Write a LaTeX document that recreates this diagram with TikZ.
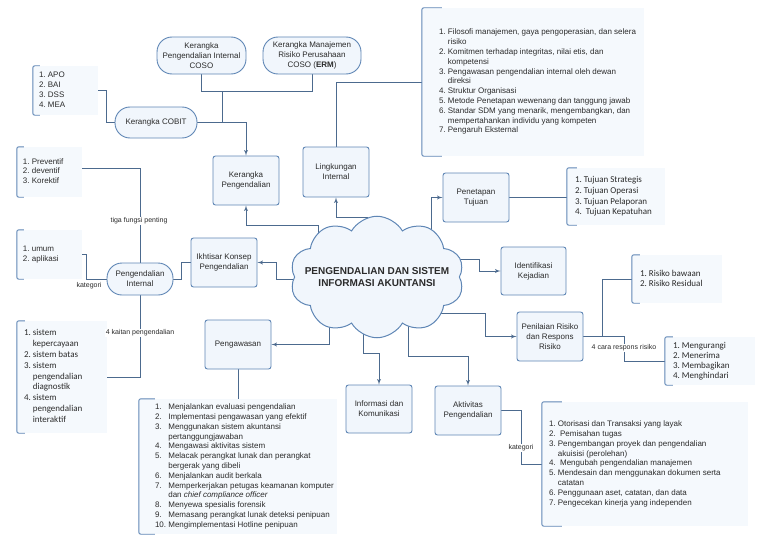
\documentclass[tikz,border=0pt]{standalone}
\usepackage{fontspec}
\setmainfont{Liberation Sans}
\newfontfamily\calfont{Carlito}
\usepackage{xcolor}
\usepackage{tikz}
\usetikzlibrary{positioning}
\usetikzlibrary{arrows,shapes.misc,shapes.symbols}

\definecolor{framecol}{HTML}{5F86B5}
\definecolor{linecol}{HTML}{4C6A8E}
\definecolor{fillcol}{HTML}{F1F6FC}
\definecolor{listcol}{HTML}{F5F9FD}
\definecolor{textcol}{HTML}{2B2B2B}

\pgfdeclarelayer{background}
\pgfsetlayers{background,main}

\newcommand\itemlist[2]{\parbox{#1}{\begin{tabular}{@{}l@{~}l@{}}#2\end{tabular}}}
\newcommand\listbrace[2][7pt]{\draw[listedge] ([xshift=#1]#2.north west) -- (#2.north west) -- (#2.south west) -- ([xshift=#1]#2.south west);}

\begin{document}
\begin{tikzpicture}[x=1pt,y=-1pt,>=latex',text=textcol,font=\fontsize{8}{10}\selectfont,
  box/.style={rectangle,draw=framecol,fill=fillcol,line width=0.9pt,rounded corners=2.5pt,
    minimum width=66pt,minimum height=49pt,align=center,inner sep=2pt},
  pill/.style={rectangle,draw=framecol,fill=fillcol,line width=0.9pt,rounded corners=15pt,
    align=center,inner sep=1pt},
  listbox/.style={fill=listcol,inner sep=0pt,font=\fontsize{8}{9.8}\selectfont},
  calist/.style={listbox,font=\calfont\fontsize{9}{10.8}\selectfont},
  listedge/.style={draw=framecol,line width=0.9pt,rounded corners=2pt},
  conn/.style={draw=linecol,line width=0.9pt},
  lbl/.style={fill=white,inner sep=1pt,font=\fontsize{7}{8}\selectfont}]
  \useasboundingbox (0,0) rectangle (768,543);

  % centre
  \node (cloud) [cloud,cloud puffs=10,cloud puff arc=120,aspect=1.7,draw=framecol,fill=fillcol,
    line width=1pt,minimum width=165pt,minimum height=99pt,inner xsep=-14pt,inner ysep=0pt,
    align=center,font=\bfseries\fontsize{10}{12}\selectfont] at (377,277)
    {PENGENDALIAN DAN SISTEM\\INFORMASI AKUNTANSI};

  % upper left
  \node (cosoint) [pill,minimum width=89pt,minimum height=37pt] at (201.5,55.5)
    {Kerangka\\Pengendalian Internal\\COSO};
  \node (erm) [pill,minimum width=98pt,minimum height=37pt] at (312,55.5)
    {Kerangka Manajemen\\Risiko Perusahaan\\COSO (\textbf{ERM})};
  \node (cobit) [pill,minimum width=82pt,minimum height=31pt] at (156,122.5) {Kerangka COBIT};
  \node (apolist) [listbox,minimum width=65pt,minimum height=49pt] at (65.5,90.5)
    {\itemlist{53pt}{1. & APO\\ 2. & BAI\\ 3. & DSS\\ 4. & MEA}};
  \node (kerangka) [box] at (246,180.5) {Kerangka\\Pengendalian};
  \node (lingkungan) [box,minimum height=50pt] at (336,172) {Lingkungan\\Internal};
  \node (filosofi) [listbox,minimum width=222pt,minimum height=148pt] at (533,82)
    {\itemlist{188pt}{1. & Filosofi manajemen, gaya pengoperasian, dan selera\\
     & risiko\\
    2. & Komitmen terhadap integritas, nilai etis, dan\\
     & kompetensi\\
    3. & Pengawasan pengendalian internal oleh dewan\\
     & direksi\\
    4. & Struktur Organisasi\\
    5. & Metode Penetapan wewenang dan tanggung jawab\\
    6. & Standar SDM yang menarik, mengembangkan, dan\\
     & mempertahankan individu yang kompeten\\
    7. & Pengaruh Eksternal}};

  % left
  \node (ikhtisar) [box] at (224,262.5) {Ikhtisar Konsep\\Pengendalian};
  \node (pengint) [pill,minimum width=66pt,minimum height=32pt] at (140,279) {Pengendalian\\Internal};
  \node (prevlist) [listbox,minimum width=65pt,minimum height=50pt] at (49.5,172)
    {\itemlist{53pt}{1. & Preventif\\ 2. & deventif\\ 3. & Korektif}};
  \node (umumlist) [listbox,minimum width=65pt,minimum height=49pt] at (49.5,254.5)
    {\itemlist{53pt}{1. & umum\\ 2. & aplikasi}};
  \node (sistemlist) [calist,minimum width=90pt,minimum height=112pt] at (62,377)
    {\itemlist{76pt}{1. & sistem\\ & kepercayaan\\ 2. & sistem batas\\ 3. & sistem\\
     & pengendalian\\ & diagnostik\\ 4. & sistem\\ & pengendalian\\ & interaktif}};

  % bottom
  \node (pengawasan) [box] at (238,344.5) {Pengawasan};
  \node (pawlist) [listbox,minimum width=198pt,minimum height=135pt] at (238,466.5)
    {\itemlist{166pt}{1. & Menjalankan evaluasi pengendalian\\
    2. & Implementasi pengawasan yang efektif\\
    3. & Menggunakan sistem akuntansi\\
     & pertanggungjawaban\\
    4. & Mengawasi aktivitas sistem\\
    5. & Melacak perangkat lunak dan perangkat\\
     & bergerak yang dibeli\\
    6. & Menjalankan audit berkala\\
    7. & Memperkerjakan petugas keamanan komputer\\
     & dan \textit{chief compliance officer}\\
    8. & Menyewa spesialis forensik\\
    9. & Memasang perangkat lunak deteksi penipuan\\
    10. & Mengimplementasi Hotline penipuan}};
  \node (infokom) [box,minimum height=48pt] at (379,409) {Informasi dan\\Komunikasi};
  \node (aktivitas) [box] at (468,410.5) {Aktivitas\\Pengendalian};
  \node (aktlist) [listbox,minimum width=206pt,minimum height=124pt] at (645,464)
    {\itemlist{192pt}{1. & Otorisasi dan Transaksi yang layak\\
    2. & \ Pemisahan tugas\\
    3. & Pengembangan proyek dan pengendalian\\
     & akuisisi (perolehan)\\
    4. & \ Mengubah pengendalian manajemen\\
    5. & Mendesain dan menggunakan dokumen serta\\
     & catatan\\
    6. & Penggunaan aset, catatan, dan data\\
    7. & Pengecekan kinerja yang independen}};

  % right
  \node (penetapan) [box] at (476,197.5) {Penetapan\\Tujuan};
  \node (tujlist) [calist,minimum width=98pt,minimum height=57pt] at (616,196.5)
    {\itemlist{82pt}{1. & Tujuan Strategis\\ 2. & Tujuan Operasi\\ 3. & Tujuan Pelaporan\\
    4. & \ Tujuan Kepatuhan}};
  \node (identifikasi) [box,minimum width=65pt,minimum height=48pt] at (533.5,271) {Identifikasi\\Kejadian};
  \node (penilaian) [box] at (550,336.5) {Penilaian Risiko\\dan Respons\\Risiko};
  \node (risklist) [calist,minimum width=90pt,minimum height=48pt,
    font=\calfont\fontsize{9}{10}\selectfont] at (677,279)
    {\itemlist{74pt}{1. & Risiko bawaan\\ 2. & Risiko Residual}};
  \node (menglist) [calist,minimum width=90pt,minimum height=48pt,
    font=\calfont\fontsize{9}{10}\selectfont] at (710,361)
    {\itemlist{74pt}{1. & Mengurangi\\ 2. & Menerima\\ 3. & Membagikan\\ 4. & Menghindari}};

  % brackets of the lists
  \listbrace{apolist}
  \listbrace{prevlist}
  \listbrace{umumlist}
  \listbrace[8pt]{sistemlist}
  \listbrace[20pt]{filosofi}
  \listbrace[16pt]{pawlist}
  \listbrace[20pt]{aktlist}
  \listbrace[10pt]{tujlist}
  \listbrace[8pt]{risklist}
  \listbrace[8pt]{menglist}

  \begin{pgfonlayer}{background}
  % from the cloud
  \draw[conn,->] ([xshift=-59pt]cloud.center) -- ++(0,-52) -| (kerangka.south);
  \draw[conn,->] ([xshift=-10pt]cloud.center) -- ++(0,-60) -| (lingkungan.south);
  \draw[conn,->] ([xshift=-70pt,yshift=-2pt]cloud.center) -- ++(-31,0) |- (ikhtisar.east);
  \draw[conn,->] ([xshift=-48pt]cloud.center) |- (pengawasan.east);
  \draw[conn,->] ([xshift=-14pt]cloud.center) -- ++(0,76) -| (infokom.north);
  \draw[conn,->] ([xshift=31pt]cloud.center) -- ++(0,79) -| (aktivitas.north);
  \draw[conn,->] ([xshift=23pt,yshift=37pt]cloud.center) -- ++(31,0) |- (penetapan.west);
  \draw[conn,->] ([xshift=63pt,yshift=18pt]cloud.center) -- ++(39,0) |- (identifikasi.west);
  \draw[conn,->] ([xshift=63pt,yshift=-36pt]cloud.center) -- ++(45,0) |- (penilaian.west);
  % frameworks
  \draw[conn,->] (cobit.east) -| (kerangka.north);
  \draw[conn] (cosoint.south) -- ++(0,17) -| (erm.south);
  \draw[conn] ([xshift=20.5pt,yshift=-17pt]cosoint.south) -- ++(0,32);
  \draw[conn] (apolist.east) -- ++(8,0) |- (cobit.west);
  \draw[conn] (lingkungan.north) |- (filosofi.west);
  % internal control
  \draw[conn] (ikhtisar.west) -- ++(-9,0) |- (pengint.east);
  \draw[conn] ([yshift=4pt]prevlist.east) -| (pengint.north);
  \draw[conn] (umumlist.east) -- ++(4,0) |- (pengint.west);
  \draw[conn] (sistemlist.east) -| (pengint.south);
  % lists
  \draw[conn] (pengawasan.south) -- (pawlist.north);
  \draw[conn] (aktivitas.east) -- ++(20,0) |- (aktlist.west);
  \draw[conn] (penetapan.east) -- (penetapan.east -| tujlist.west);
  \draw[conn] (penilaian.east) -- ++(19,0) |- (risklist.west);
  \draw[conn] (penilaian.east) -- ++(41,0) |- (menglist.west);
  \end{pgfonlayer}

  % labels on the connectors
  \node (lbltiga) [lbl] at (139,221) {tiga fungsi penting};
  \node (lblkat) [lbl] at (89,286) {kategori};
  \node (lblkaitan) [lbl] at (140,333) {4 kaitan pengendalian};
  \node (lblkat2) [lbl] at (521,448) {kategori};
  \node (lblcara) [lbl] at (624,348) {4 cara respons risiko};
\end{tikzpicture}
\end{document}
